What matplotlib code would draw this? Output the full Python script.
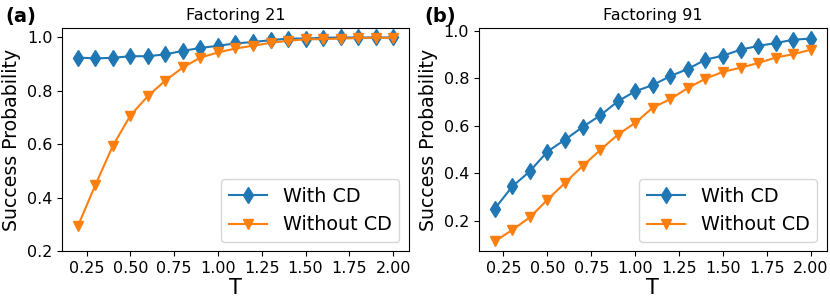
import matplotlib
matplotlib.use('Agg')
from matplotlib import pyplot as plt

T = [0.2, 0.3, 0.4, 0.5, 0.6, 0.7, 0.8, 0.9, 1.0, 1.1,
     1.2, 1.3, 1.4, 1.5, 1.6, 1.7, 1.8, 1.9, 2.0]

# Factoring 21
with_cd_21 = [0.925, 0.922, 0.924, 0.930, 0.930, 0.937, 0.950, 0.961, 0.969, 0.978,
              0.983, 0.990, 0.996, 0.996, 0.999, 1.0, 1.0, 1.0, 1.0]
without_cd_21 = [0.294, 0.448, 0.595, 0.708, 0.781, 0.839, 0.888, 0.925, 0.944, 0.959,
                 0.969, 0.980, 0.988, 0.993, 0.994, 0.996, 0.998, 0.999, 0.999]

# Factoring 91
with_cd_91 = [0.251, 0.345, 0.409, 0.492, 0.542, 0.595, 0.644, 0.703, 0.746, 0.772,
              0.810, 0.840, 0.879, 0.896, 0.921, 0.937, 0.949, 0.963, 0.968]
without_cd_91 = [0.114, 0.162, 0.215, 0.289, 0.360, 0.431, 0.498, 0.563, 0.613, 0.677,
                 0.713, 0.760, 0.799, 0.828, 0.845, 0.865, 0.888, 0.902, 0.921]

fig = plt.figure(figsize=(8.3, 2.99), dpi=100)
ax1 = fig.add_axes([0.0747, 0.159, 0.418, 0.746])
ax2 = fig.add_axes([0.577, 0.159, 0.419, 0.746])

for ax, w, wo, title in [(ax1, with_cd_21, without_cd_21, "Factoring 21"),
                         (ax2, with_cd_91, without_cd_91, "Factoring 91")]:
    ax.plot(T, w, marker='d', markersize=8.5, color='tab:blue', label='With CD')
    ax.plot(T, wo, marker='v', markersize=7.5, color='tab:orange', label='Without CD')
    ax.set_title(title, fontsize=11.5)
    ax.set_xlabel('T', fontsize=15, labelpad=1)
    ax.set_xticks([0.25, 0.5, 0.75, 1.0, 1.25, 1.5, 1.75, 2.0])
    ax.tick_params(labelsize=11.5)
    ax.legend(loc='lower right', fontsize=13.8)

ax1.set_ylim(0.2, 1.034)
ax1.set_yticks([0.2, 0.4, 0.6, 0.8, 1.0])
ax2.set_yticks([0.2, 0.4, 0.6, 0.8, 1.0])
ax1.set_ylabel('Success Probability', fontsize=13.6)
ax2.set_ylabel('Success Probability', fontsize=13.6)

fig.text(0.007, 0.925, '(a)', fontsize=14, fontweight='bold')
fig.text(0.511, 0.925, '(b)', fontsize=14, fontweight='bold')

fig.savefig('out.png', dpi=100)
